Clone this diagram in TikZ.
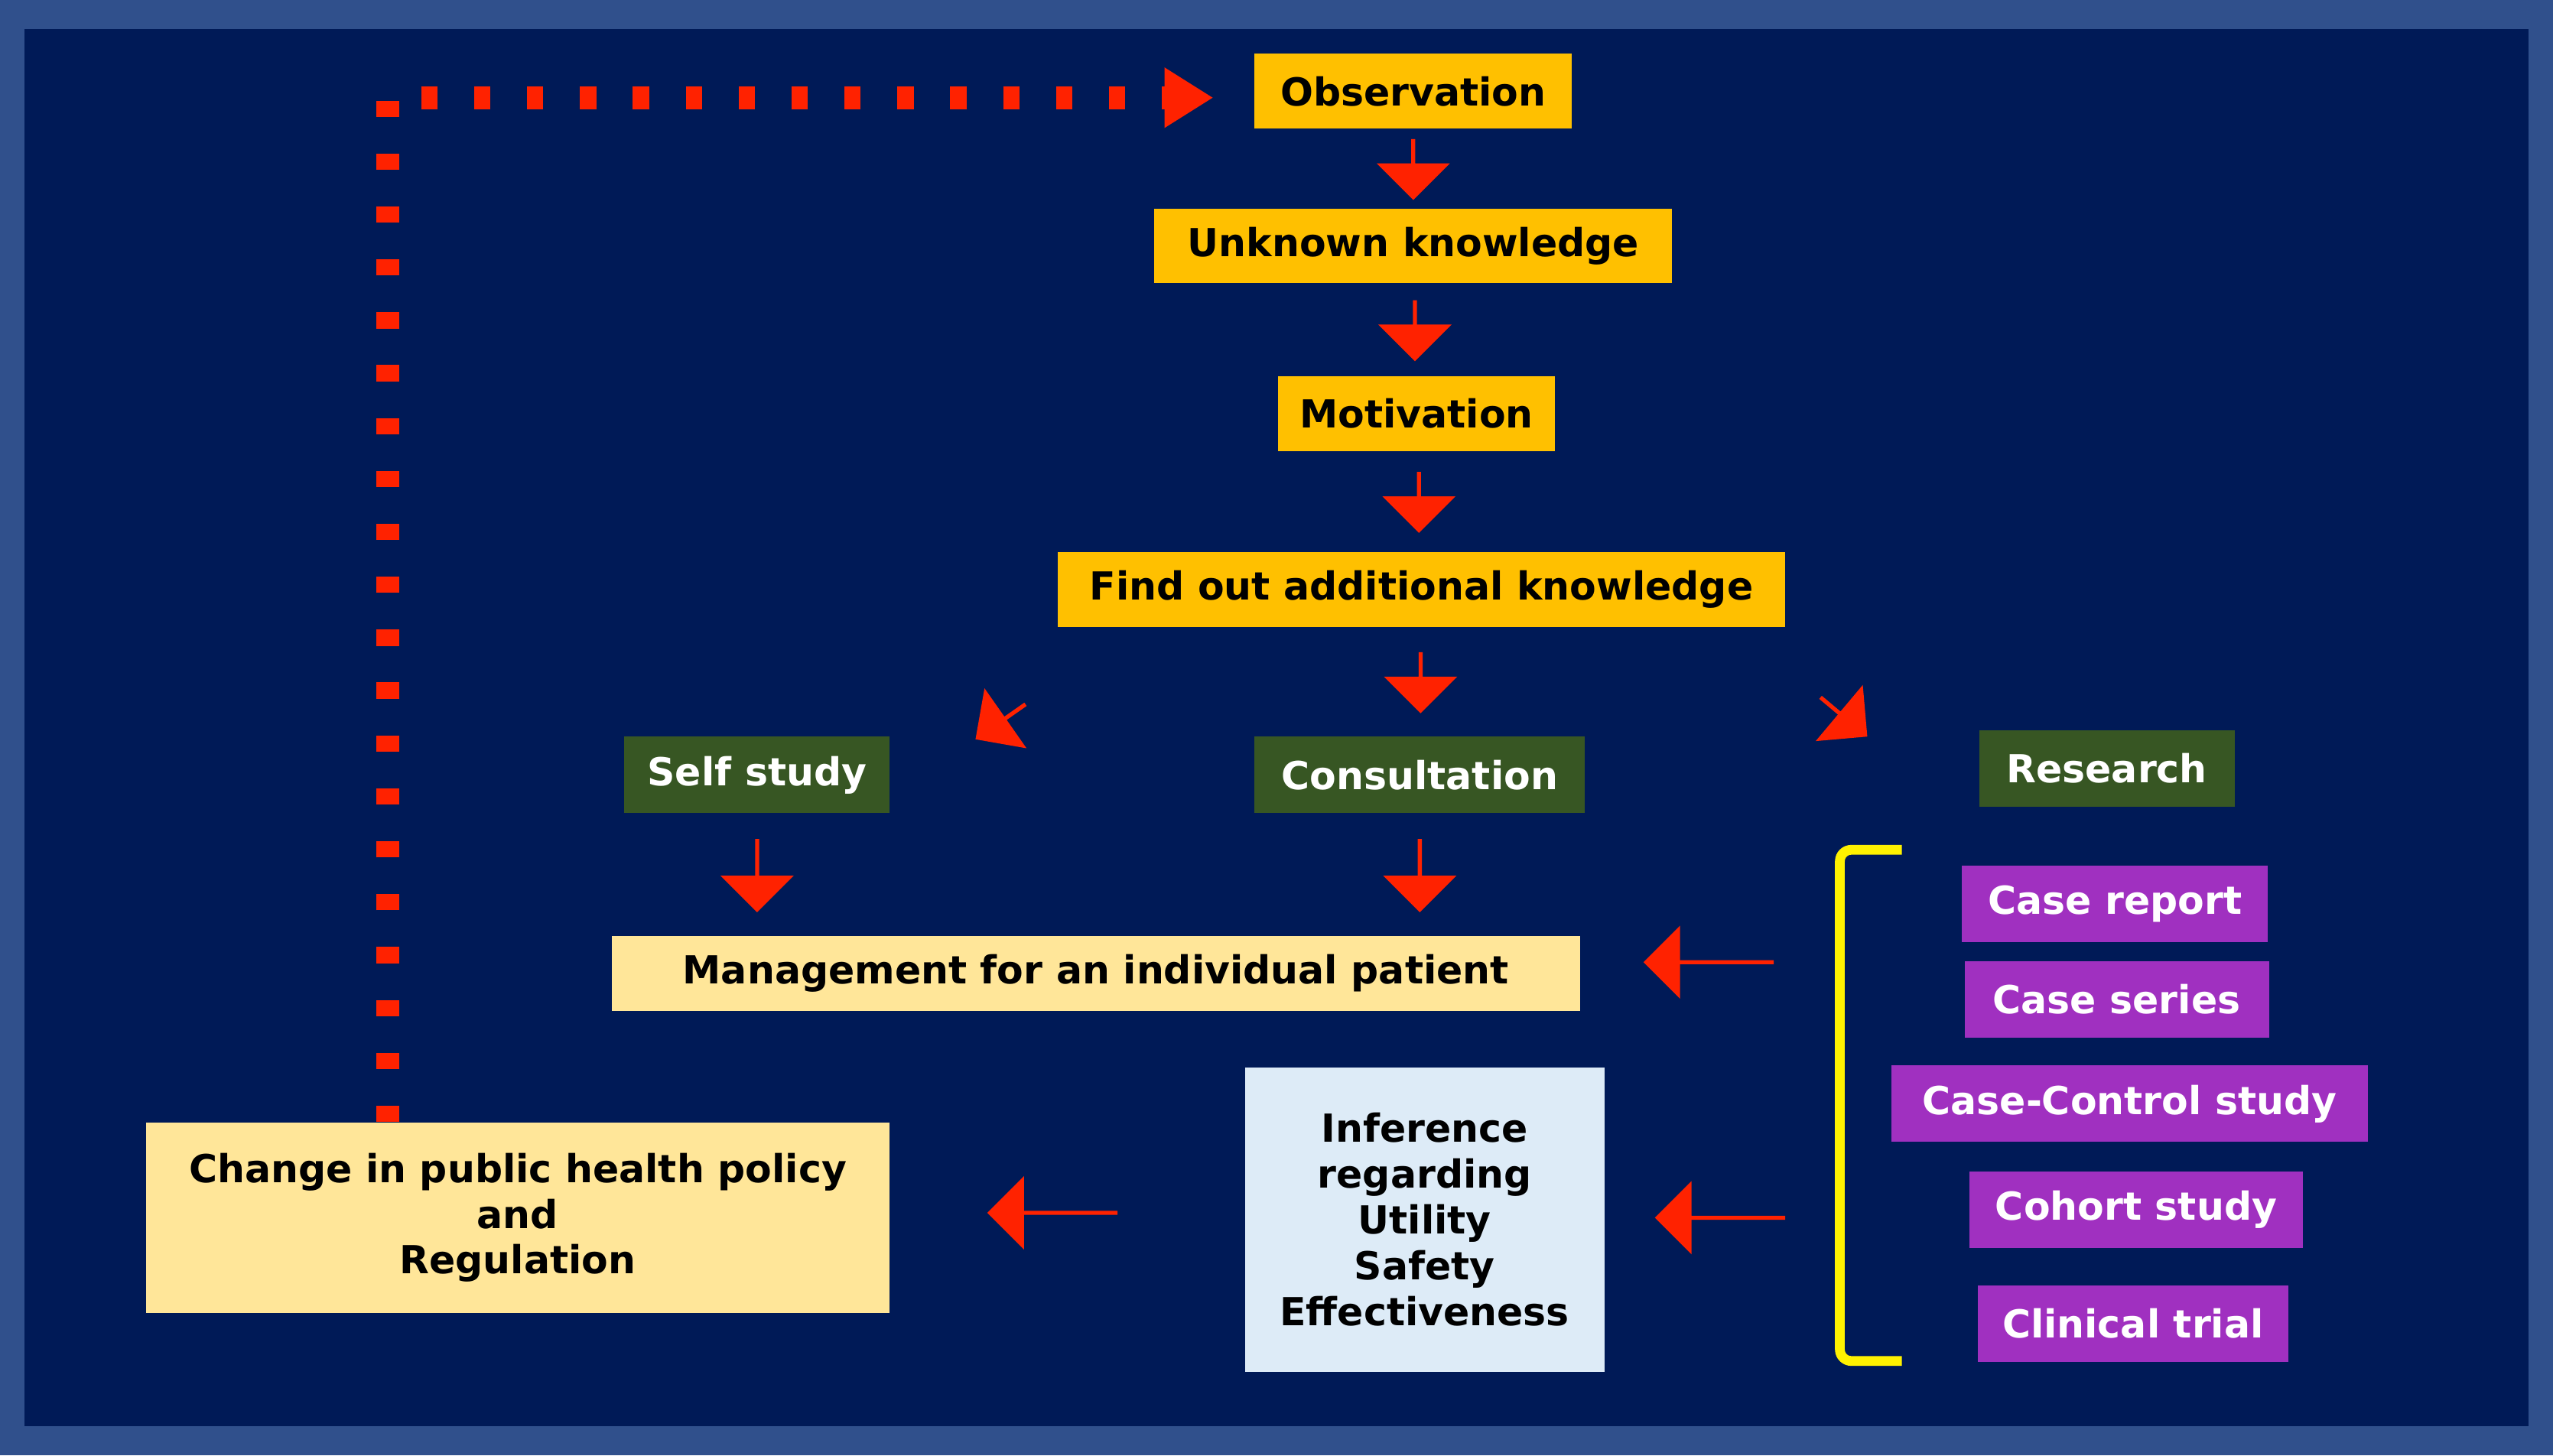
\documentclass[tikz,border=0pt]{standalone}
\usepackage{fontspec}
\setmainfont{DejaVu Sans}
\usetikzlibrary{shapes.arrows,arrows.meta,calc,positioning}
\definecolor{frame}{RGB}{48,80,140}
\definecolor{navy}{RGB}{0,26,87}
\definecolor{step}{RGB}{255,192,0}
\definecolor{route}{RGB}{55,86,35}
\definecolor{design}{RGB}{160,48,192}
\definecolor{outcome}{RGB}{255,230,153}
\definecolor{inference}{RGB}{221,235,247}
\definecolor{flow}{RGB}{255,34,0}
\tikzset{
  box/.style={font=\fontsize{13.5}{16}\selectfont\bfseries, align=center, inner sep=2pt},
  stepbox/.style={box, fill=step, text=black, minimum height=0.92cm},
  routebox/.style={box, fill=route, text=white, minimum height=0.94cm},
  designbox/.style={box, fill=design, text=white, minimum height=0.94cm},
  lightbox/.style={box, fill=outcome, text=black},
  blockarrow/.style={single arrow, fill=flow, draw=none, minimum width=0.9cm,
    single arrow head extend=0.12cm, minimum height=0.75cm, inner sep=0pt},
  longarrow/.style={blockarrow, minimum height=1.6cm}
}
\begin{document}
\begin{tikzpicture}[x=0.02cm, y=-0.02cm]
  \fill[frame] (0,0) rectangle (1568,894);
  \fill[navy] (15,18) rectangle (1553,876);
  \useasboundingbox (0,0) rectangle (1568,894);

  % main chain
  \node[stepbox, minimum width=3.9cm] (obs) at (868,56) {Observation};
  \node[stepbox, minimum width=6.36cm] (unk) at (868,151) {Unknown knowledge};
  \node[stepbox, minimum width=3.4cm] (mot) at (870,254) {Motivation};
  \node[stepbox, minimum width=8.94cm] (find) at (873,362) {Find out additional knowledge};

  % routes
  \node[routebox, minimum width=3.26cm] (self) at (465,476) {Self study};
  \node[routebox, minimum width=4.06cm] (cons) at (872,476) {Consultation};
  \node[routebox, minimum width=3.14cm] (res) at (1294,472) {Research};

  % study designs
  \node[designbox, minimum width=3.76cm] (report) at (1299,555) {Case report};
  \node[designbox, minimum width=3.74cm] (series) at (1300,614) {Case series};
  \node[designbox, minimum width=5.86cm] (control) at (1308,678) {Case-Control study};
  \node[designbox, minimum width=4.1cm] (cohort) at (1312,743) {Cohort study};
  \node[designbox, minimum width=3.82cm] (trial) at (1310,813) {Clinical trial};

  % outcomes
  \node[lightbox, minimum width=11.9cm, minimum height=0.92cm] (mgmt) at (673,598)
    {Management for an individual patient};
  \node[lightbox, minimum width=9.14cm, minimum height=2.34cm] (policy) at (318,748)
    {Change in public health policy\\and\\Regulation};
  \node[box, fill=inference, text=black, minimum width=4.42cm, minimum height=3.74cm] (infer)
    at (875,749) {Inference\\regarding\\Utility\\Safety\\Effectiveness};

  % block arrows
  \node[blockarrow, rotate=-90] (a1) at ($(obs.south)!0.5!(unk.north)$) {};
  \node[blockarrow, rotate=-90] (a2) at ($(unk.south)!0.5!(mot.north)$) {};
  \node[blockarrow, rotate=-90] (a3) at ($(mot.south)!0.5!(find.north)$) {};
  \node[blockarrow, rotate=-90] (a4) at ($(find.south)!0.5!(cons.north)$) {};
  \node[blockarrow, rotate=-145] (a5) at (615,443) {};
  \node[blockarrow, rotate=-40] (a6) at (1132,440) {};
  \node[blockarrow, rotate=-90, minimum height=0.9cm] (a7) at ($(self.south)!0.5!(mgmt.north -| self)$) {};
  \node[blockarrow, rotate=-90, minimum height=0.9cm] (a8) at ($(cons.south)!0.5!(mgmt.north -| cons)$) {};
  \node[longarrow, rotate=180] (a9) at (1050,591) {};
  \node[longarrow, rotate=180] (a10) at (1057,748) {};
  \node[longarrow, rotate=180] (a11) at (647,745) {};

  % bracket round the designs
  \draw[yellow, line width=0.12cm, rounded corners=4pt]
    (1168,522) -- (1130,522) -- (1130,836) -- (1168,836);

  % feedback loop
  \coordinate (loop) at (238,60);
  \draw[flow, line width=0.28cm, dash pattern=on 0.2cm off 0.45cm,
    -{Triangle[length=0.6cm, width=0.7cm]}, shorten >=0.5cm]
    (policy.north -| loop) -- (loop) -- (obs.west |- loop);
\end{tikzpicture}
\end{document}
